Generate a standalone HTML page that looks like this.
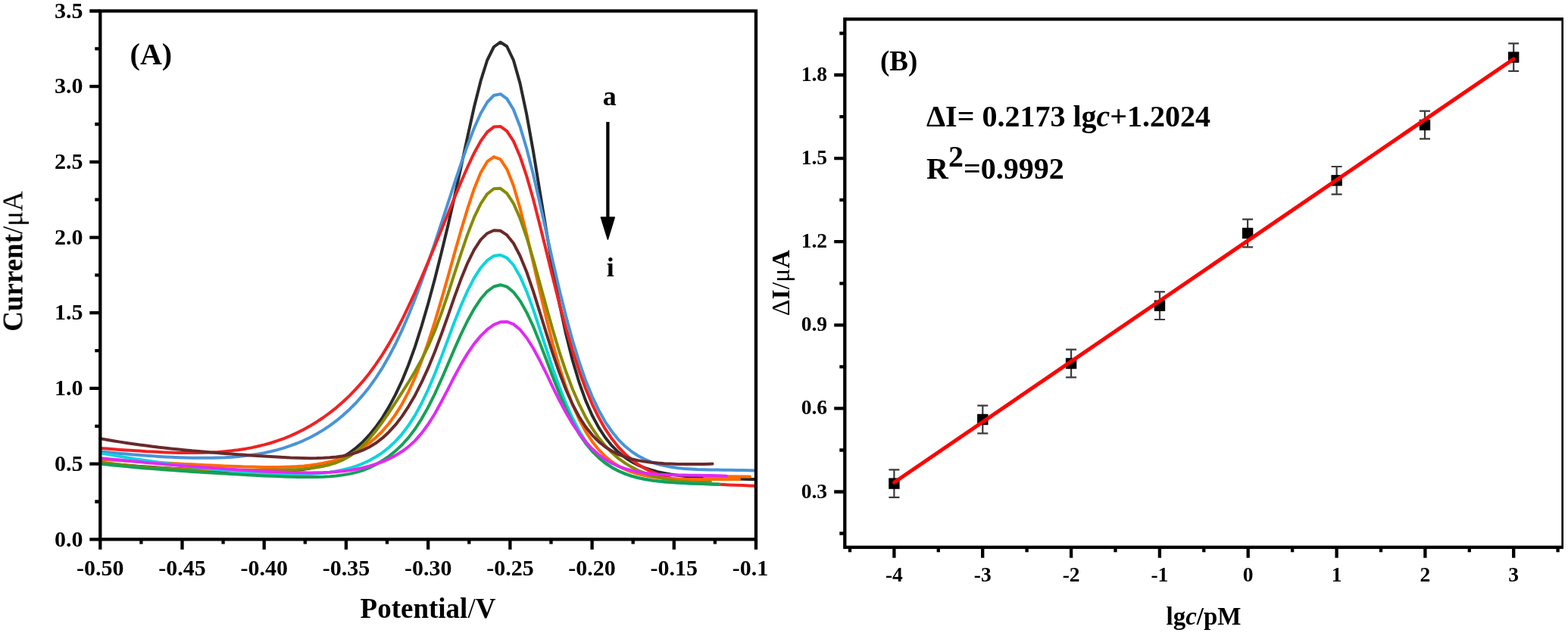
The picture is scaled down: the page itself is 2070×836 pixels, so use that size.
<!DOCTYPE html>
<html><head><meta charset="utf-8"><title>Figure</title>
<style>html,body{margin:0;padding:0;background:#fff;}svg{display:block;}</style>
</head><body>
<svg width="2070" height="836" viewBox="0 0 2070 836">
<defs><filter id="soft" x="0" y="0" width="100%" height="100%"><feGaussianBlur stdDeviation="0.45"/></filter></defs>
<rect width="2070" height="836" fill="#fff"/>
<g filter="url(#soft)">
<g fill="none" stroke-width="4" stroke-linejoin="round" stroke-linecap="round">
<path d="M132.0,611.4 L141.0,612.3 L149.6,613.1 L158.3,613.8 L166.9,614.5 L175.6,615.2 L184.3,615.9 L192.9,616.5 L201.6,617.1 L210.2,617.7 L218.9,618.2 L227.6,618.8 L236.2,619.3 L244.9,619.7 L253.5,620.2 L262.2,620.6 L270.9,621.0 L279.5,621.3 L288.2,621.7 L296.8,622.0 L305.5,622.2 L314.2,622.4 L322.8,622.6 L331.5,622.7 L340.1,622.8 L348.8,622.8 L357.5,622.7 L366.1,622.4 L374.8,622.1 L383.4,621.5 L392.1,620.8 L400.8,619.7 L409.4,618.4 L418.1,616.6 L426.7,614.4 L435.4,611.5 L444.1,607.9 L452.7,603.5 L461.4,598.1 L470.0,591.6 L478.7,583.9 L487.4,574.7 L496.0,564.1 L504.7,551.8 L513.3,537.6 L522.0,521.4 L530.7,502.9 L539.3,481.7 L548.0,457.6 L556.6,430.5 L565.3,400.7 L574.0,368.5 L582.6,334.3 L591.3,298.2 L599.9,260.2 L608.6,220.6 L617.3,180.4 L625.9,141.5 L634.6,106.9 L643.2,79.5 L651.9,62.0 L660.6,55.7 L669.2,61.3 L677.9,79.5 L686.5,109.9 L695.2,150.8 L703.9,199.3 L712.5,251.9 L721.2,304.6 L729.8,355.0 L738.5,400.9 L747.2,441.3 L755.8,475.8 L764.5,504.8 L773.1,528.9 L781.8,548.7 L790.5,564.9 L799.1,578.0 L807.8,588.7 L816.4,597.3 L825.1,604.3 L833.8,609.8 L842.4,614.3 L851.1,617.9 L859.7,620.7 L868.4,623.1 L877.1,624.9 L885.7,626.5 L894.4,627.7 L903.0,628.7 L911.7,629.6 L920.4,630.3 L929.0,630.8 L937.7,631.3 L946.3,631.7 L955.0,632.1 L963.7,632.4 L972.3,632.6 L981.0,632.8 L989.6,632.9 L998.0,633.0" stroke="#2b2b2b"/>
<path d="M132.0,596.4 L141.0,597.3 L149.6,598.1 L158.3,598.9 L166.9,599.6 L175.6,600.4 L184.3,601.1 L192.9,601.7 L201.6,602.3 L210.2,602.9 L218.9,603.4 L227.6,603.8 L236.2,604.2 L244.9,604.5 L253.5,604.7 L262.2,604.8 L270.9,604.8 L279.5,604.8 L288.2,604.5 L296.8,604.2 L305.5,603.7 L314.2,603.0 L322.8,602.1 L331.5,601.0 L340.1,599.7 L348.8,598.1 L357.5,596.2 L366.1,594.1 L374.8,591.6 L383.4,588.7 L392.1,585.5 L400.8,581.8 L409.4,577.7 L418.1,573.0 L426.7,567.9 L435.4,562.1 L444.1,555.7 L452.7,548.6 L461.4,540.7 L470.0,532.0 L478.7,522.2 L487.4,511.4 L496.0,499.4 L504.7,486.0 L513.3,471.0 L522.0,454.5 L530.7,436.2 L539.3,416.2 L548.0,394.5 L556.6,371.3 L565.3,346.8 L574.0,321.3 L582.6,295.1 L591.3,268.6 L599.9,242.2 L608.6,216.3 L617.3,191.7 L625.9,169.2 L634.6,149.8 L643.2,135.0 L651.9,126.0 L660.6,124.2 L669.2,130.4 L677.9,144.8 L686.5,167.0 L695.2,196.0 L703.9,230.1 L712.5,267.6 L721.2,306.6 L729.8,345.5 L738.5,382.9 L747.2,417.7 L755.8,449.4 L764.5,477.7 L773.1,502.4 L781.8,523.8 L790.5,541.9 L799.1,557.3 L807.8,570.0 L816.4,580.6 L825.1,589.3 L833.8,596.3 L842.4,602.0 L851.1,606.6 L859.7,610.1 L868.4,613.0 L877.1,615.1 L885.7,616.8 L894.4,618.0 L903.0,618.9 L911.7,619.5 L920.4,620.0 L929.0,620.3 L937.7,620.5 L946.3,620.6 L955.0,620.7 L963.7,620.8 L972.3,620.9 L981.0,621.1 L989.6,621.3 L998.0,621.6" stroke="#4a93d8"/>
<path d="M132.0,591.9 L141.0,592.6 L149.6,593.2 L158.3,593.9 L166.9,594.5 L175.6,595.1 L184.3,595.6 L192.9,596.2 L201.6,596.6 L210.2,597.0 L218.9,597.4 L227.6,597.7 L236.2,597.9 L244.9,598.0 L253.5,598.0 L262.2,597.9 L270.9,597.7 L279.5,597.4 L288.2,596.9 L296.8,596.2 L305.5,595.3 L314.2,594.2 L322.8,592.9 L331.5,591.4 L340.1,589.5 L348.8,587.4 L357.5,585.0 L366.1,582.2 L374.8,579.1 L383.4,575.6 L392.1,571.6 L400.8,567.3 L409.4,562.5 L418.1,557.2 L426.7,551.5 L435.4,545.1 L444.1,538.3 L452.7,530.8 L461.4,522.6 L470.0,513.7 L478.7,503.9 L487.4,493.2 L496.0,481.4 L504.7,468.5 L513.3,454.4 L522.0,439.1 L530.7,422.5 L539.3,404.7 L548.0,385.9 L556.6,366.2 L565.3,345.8 L574.0,324.9 L582.6,303.8 L591.3,282.5 L599.9,261.3 L608.6,240.5 L617.3,220.5 L625.9,202.2 L634.6,186.4 L643.2,174.4 L651.9,167.6 L660.6,166.9 L669.2,173.1 L677.9,186.4 L686.5,206.5 L695.2,232.4 L703.9,262.8 L712.5,296.4 L721.2,331.6 L729.8,366.9 L738.5,401.2 L747.2,433.4 L755.8,463.0 L764.5,489.7 L773.1,513.2 L781.8,533.8 L790.5,551.6 L799.1,566.7 L807.8,579.6 L816.4,590.5 L825.1,599.5 L833.8,607.1 L842.4,613.4 L851.1,618.6 L859.7,622.8 L868.4,626.4 L877.1,629.2 L885.7,631.6 L894.4,633.5 L903.0,635.1 L911.7,636.3 L920.4,637.4 L929.0,638.2 L937.7,638.9 L946.3,639.5 L955.0,640.0 L963.7,640.4 L972.3,640.8 L981.0,641.1 L989.6,641.4 L998.0,641.8" stroke="#f02222"/>
<path d="M132.0,606.7 L141.0,607.2 L149.6,607.7 L158.3,608.2 L166.9,608.7 L175.6,609.1 L184.3,609.6 L192.9,610.1 L201.6,610.6 L210.2,611.0 L218.9,611.5 L227.6,612.0 L236.2,612.4 L244.9,612.9 L253.5,613.3 L262.2,613.8 L270.9,614.2 L279.5,614.6 L288.2,615.0 L296.8,615.4 L305.5,615.7 L314.2,616.1 L322.8,616.4 L331.5,616.6 L340.1,616.8 L348.8,616.9 L357.5,617.0 L366.1,617.0 L374.8,616.8 L383.4,616.5 L392.1,616.1 L400.8,615.4 L409.4,614.5 L418.1,613.3 L426.7,611.7 L435.4,609.8 L444.1,607.3 L452.7,604.4 L461.4,600.8 L470.0,596.5 L478.7,591.3 L487.4,585.2 L496.0,578.0 L504.7,569.5 L513.3,559.5 L522.0,547.6 L530.7,533.7 L539.3,517.4 L548.0,498.4 L556.6,476.6 L565.3,452.1 L574.0,425.1 L582.6,396.1 L591.3,365.8 L599.9,334.9 L608.6,304.4 L617.3,275.4 L625.9,249.4 L634.6,228.1 L643.2,213.4 L651.9,207.1 L660.6,210.3 L669.2,223.3 L677.9,245.3 L686.5,274.7 L695.2,309.2 L703.9,346.4 L712.5,384.1 L721.2,420.5 L729.8,454.3 L738.5,484.7 L747.2,511.4 L755.8,534.3 L764.5,553.7 L773.1,569.9 L781.8,583.2 L790.5,594.1 L799.1,602.9 L807.8,609.9 L816.4,615.5 L825.1,619.9 L833.8,623.4 L842.4,626.1 L851.1,628.1 L859.7,629.7 L868.4,630.8 L877.1,631.7 L885.7,632.2 L894.4,632.6 L903.0,632.9 L911.7,633.0 L920.4,633.0 L929.0,633.0 L937.7,633.0 L946.3,633.0 L955.0,633.0 L963.7,633.0 L972.3,633.0 L976.0,633.0" stroke="#ff6a00"/>
<path d="M930,629.2 L960,629.3 L990,629.4" stroke="#ff6a00"/>
<path d="M132.0,610.1 L141.0,611.4 L149.6,612.6 L158.3,613.7 L166.9,614.6 L175.6,615.5 L184.3,616.3 L192.9,616.9 L201.6,617.5 L210.2,618.1 L218.9,618.5 L227.6,618.9 L236.2,619.3 L244.9,619.6 L253.5,619.8 L262.2,620.0 L270.9,620.2 L279.5,620.4 L288.2,620.5 L296.8,620.6 L305.5,620.7 L314.2,620.8 L322.8,620.8 L331.5,620.9 L340.1,620.9 L348.8,620.9 L357.5,620.8 L366.1,620.7 L374.8,620.6 L383.4,620.3 L392.1,619.9 L400.8,619.3 L409.4,618.5 L418.1,617.3 L426.7,615.8 L435.4,613.7 L444.1,611.0 L452.7,607.3 L461.4,602.6 L470.0,596.5 L478.7,588.9 L487.4,579.8 L496.0,569.3 L504.7,557.6 L513.3,545.0 L522.0,531.9 L530.7,518.4 L539.3,504.7 L548.0,490.3 L556.6,474.8 L565.3,457.2 L574.0,437.0 L582.6,414.0 L591.3,388.6 L599.9,361.7 L608.6,334.8 L617.3,309.4 L625.9,287.1 L634.6,269.1 L643.2,256.2 L651.9,249.2 L660.6,248.8 L669.2,255.3 L677.9,268.6 L686.5,288.3 L695.2,313.3 L703.9,342.3 L712.5,373.5 L721.2,405.3 L729.8,436.1 L738.5,464.8 L747.2,490.8 L755.8,513.8 L764.5,533.7 L773.1,550.9 L781.8,565.7 L790.5,578.3 L799.1,588.9 L807.8,597.8 L816.4,605.4 L825.1,611.6 L833.8,616.9 L842.4,621.3 L851.1,624.9 L859.7,627.9 L868.4,630.4 L877.1,632.4 L885.7,633.9 L894.4,635.2 L903.0,636.1 L911.7,636.7 L920.4,637.0 L929.0,637.1 L938.0,636.8" stroke="#868a00"/>
<path d="M132.0,579.1 L141.0,580.7 L149.6,582.2 L158.3,583.6 L166.9,585.0 L175.6,586.3 L184.3,587.5 L192.9,588.6 L201.6,589.7 L210.2,590.8 L218.9,591.7 L227.6,592.7 L236.2,593.6 L244.9,594.4 L253.5,595.3 L262.2,596.0 L270.9,596.8 L279.5,597.5 L288.2,598.2 L296.8,598.9 L305.5,599.5 L314.2,600.2 L322.8,600.8 L331.5,601.4 L340.1,602.0 L348.8,602.5 L357.5,603.1 L366.1,603.6 L374.8,604.0 L383.4,604.5 L392.1,604.8 L400.8,605.0 L409.4,605.2 L418.1,605.1 L426.7,604.8 L435.4,604.3 L444.1,603.5 L452.7,602.2 L461.4,600.4 L470.0,597.9 L478.7,594.7 L487.4,590.5 L496.0,585.3 L504.7,578.7 L513.3,570.7 L522.0,561.2 L530.7,549.9 L539.3,536.8 L548.0,521.9 L556.6,504.9 L565.3,485.9 L574.0,464.8 L582.6,441.7 L591.3,417.3 L599.9,392.4 L608.6,368.6 L617.3,347.3 L625.9,329.8 L634.6,316.7 L643.2,308.2 L651.9,304.2 L660.6,304.8 L669.2,310.4 L677.9,321.3 L686.5,337.7 L695.2,359.0 L703.9,384.3 L712.5,411.8 L721.2,440.0 L729.8,467.2 L738.5,492.3 L747.2,514.7 L755.8,534.0 L764.5,550.2 L773.1,563.7 L781.8,574.6 L790.5,583.4 L799.1,590.3 L807.8,595.8 L816.4,600.1 L825.1,603.5 L833.8,606.1 L842.4,608.1 L851.1,609.6 L859.7,610.7 L868.4,611.6 L877.1,612.2 L885.7,612.6 L894.4,612.9 L903.0,613.0 L911.7,613.1 L920.4,613.0 L929.0,612.9 L937.7,612.7 L940.5,612.6" stroke="#6b2a2a"/>
<path d="M132.0,598.4 L141.0,599.9 L149.6,601.4 L158.3,602.9 L166.9,604.3 L175.6,605.7 L184.3,607.0 L192.9,608.3 L201.6,609.6 L210.2,610.8 L218.9,612.0 L227.6,613.2 L236.2,614.3 L244.9,615.4 L253.5,616.4 L262.2,617.5 L270.9,618.5 L279.5,619.4 L288.2,620.3 L296.8,621.2 L305.5,622.0 L314.2,622.8 L322.8,623.5 L331.5,624.2 L340.1,624.8 L348.8,625.3 L357.5,625.8 L366.1,626.1 L374.8,626.4 L383.4,626.6 L392.1,626.6 L400.8,626.4 L409.4,626.1 L418.1,625.6 L426.7,624.8 L435.4,623.7 L444.1,622.3 L452.7,620.5 L461.4,618.3 L470.0,615.6 L478.7,612.3 L487.4,608.3 L496.0,603.5 L504.7,597.8 L513.3,591.0 L522.0,582.9 L530.7,573.3 L539.3,561.9 L548.0,548.4 L556.6,532.5 L565.3,514.3 L574.0,493.8 L582.6,471.6 L591.3,448.4 L599.9,425.3 L608.6,403.5 L617.3,383.9 L625.9,367.1 L634.6,353.7 L643.2,343.9 L651.9,338.0 L660.6,336.7 L669.2,340.6 L677.9,350.0 L686.5,364.9 L695.2,384.8 L703.9,408.4 L712.5,434.3 L721.2,460.9 L729.8,486.9 L738.5,511.2 L747.2,533.1 L755.8,552.3 L764.5,568.8 L773.1,582.7 L781.8,594.2 L790.5,603.5 L799.1,611.1 L807.8,617.2 L816.4,622.0 L825.1,625.8 L833.8,628.8 L842.4,631.2 L851.1,633.0 L859.7,634.4 L868.4,635.5 L877.1,636.4 L885.7,637.1 L894.4,637.6 L903.0,638.0 L911.7,638.4 L920.4,638.7 L929.0,638.9 L937.7,639.2 L946.3,639.4 L949.0,639.5" stroke="#10d4dc"/>
<path d="M132.0,612.6 L141.0,613.5 L149.6,614.4 L158.3,615.3 L166.9,616.1 L175.6,616.9 L184.3,617.7 L192.9,618.4 L201.6,619.1 L210.2,619.8 L218.9,620.5 L227.6,621.1 L236.2,621.7 L244.9,622.3 L253.5,622.9 L262.2,623.5 L270.9,624.1 L279.5,624.6 L288.2,625.1 L296.8,625.6 L305.5,626.1 L314.2,626.6 L322.8,627.1 L331.5,627.5 L340.1,628.0 L348.8,628.4 L357.5,628.8 L366.1,629.1 L374.8,629.4 L383.4,629.7 L392.1,629.9 L400.8,630.1 L409.4,630.1 L418.1,630.0 L426.7,629.7 L435.4,629.2 L444.1,628.4 L452.7,627.3 L461.4,625.9 L470.0,623.9 L478.7,621.3 L487.4,617.9 L496.0,613.6 L504.7,608.5 L513.3,602.6 L522.0,595.6 L530.7,587.5 L539.3,577.9 L548.0,566.5 L556.6,553.1 L565.3,537.7 L574.0,520.3 L582.6,501.2 L591.3,481.1 L599.9,460.9 L608.6,441.4 L617.3,423.5 L625.9,407.9 L634.6,394.8 L643.2,384.8 L651.9,378.5 L660.6,376.3 L669.2,378.6 L677.9,385.7 L686.5,397.1 L695.2,412.4 L703.9,431.0 L712.5,452.3 L721.2,475.1 L729.8,498.1 L738.5,520.1 L747.2,540.1 L755.8,557.7 L764.5,572.8 L773.1,585.5 L781.8,596.1 L790.5,604.7 L799.1,611.8 L807.8,617.4 L816.4,622.0 L825.1,625.7 L833.8,628.6 L842.4,630.9 L851.1,632.7 L859.7,634.2 L868.4,635.3 L877.1,636.2 L885.7,636.9 L894.4,637.5 L903.0,638.0 L911.7,638.4 L920.4,638.7 L929.0,639.1 L937.7,639.4 L946.3,639.7 L949.0,639.8" stroke="#17a055"/>
<path d="M132.0,605.0 L141.0,605.9 L149.6,606.8 L158.3,607.6 L166.9,608.5 L175.6,609.3 L184.3,610.1 L192.9,610.9 L201.6,611.7 L210.2,612.5 L218.9,613.2 L227.6,613.9 L236.2,614.7 L244.9,615.4 L253.5,616.1 L262.2,616.7 L270.9,617.4 L279.5,618.0 L288.2,618.6 L296.8,619.2 L305.5,619.8 L314.2,620.4 L322.8,620.9 L331.5,621.5 L340.1,622.0 L348.8,622.4 L357.5,622.9 L366.1,623.3 L374.8,623.6 L383.4,623.9 L392.1,624.2 L400.8,624.3 L409.4,624.4 L418.1,624.3 L426.7,624.1 L435.4,623.7 L444.1,623.1 L452.7,622.3 L461.4,621.2 L470.0,619.7 L478.7,617.9 L487.4,615.7 L496.0,613.0 L504.7,609.8 L513.3,606.1 L522.0,601.6 L530.7,596.3 L539.3,589.9 L548.0,581.9 L556.6,572.1 L565.3,560.3 L574.0,546.5 L582.6,530.8 L591.3,514.1 L599.9,497.2 L608.6,481.1 L617.3,466.6 L625.9,454.1 L634.6,443.6 L643.2,435.2 L651.9,428.9 L660.6,425.3 L669.2,424.9 L677.9,428.1 L686.5,435.2 L695.2,446.0 L703.9,459.7 L712.5,475.8 L721.2,493.2 L729.8,511.3 L738.5,528.8 L747.2,545.1 L755.8,559.7 L764.5,572.5 L773.1,583.5 L781.8,592.8 L790.5,600.5 L799.1,606.8 L807.8,611.8 L816.4,615.8 L825.1,619.0 L833.8,621.4 L842.4,623.3 L851.1,624.7 L859.7,625.7 L868.4,626.4 L877.1,626.9 L885.7,627.3 L894.4,627.5 L903.0,627.6 L911.7,627.7 L920.4,627.8 L929.0,627.9 L937.7,628.1 L946.3,628.3 L955.0,628.6 L959.0,628.7" stroke="#e02cf4"/>
</g>
<g stroke="#000" stroke-width="4.3" fill="none" stroke-linecap="butt">
<rect x="132.3" y="14.5" width="865.7" height="697.8"/>
<path d="M132.3,712.3 V725.7 M240.5,712.3 V725.7 M348.7,712.3 V725.7 M456.9,712.3 V725.7 M565.2,712.3 V725.7 M673.4,712.3 V725.7 M781.6,712.3 V725.7 M889.8,712.3 V725.7 M998.0,712.3 V725.7 M186.4,712.3 V718.5 M294.6,712.3 V718.5 M402.8,712.3 V718.5 M511.0,712.3 V718.5 M619.3,712.3 V718.5 M727.5,712.3 V718.5 M835.7,712.3 V718.5 M943.9,712.3 V718.5 M118.3,712.3 H132.3 M118.3,612.6 H132.3 M118.3,512.9 H132.3 M118.3,413.2 H132.3 M118.3,313.6 H132.3 M118.3,213.9 H132.3 M118.3,114.2 H132.3 M118.3,14.5 H132.3 M125.3,662.5 H132.3 M125.3,562.8 H132.3 M125.3,463.1 H132.3 M125.3,363.4 H132.3 M125.3,263.7 H132.3 M125.3,164.0 H132.3 M125.3,64.3 H132.3"/>
</g>
<g font-family="'Liberation Serif', 'Times New Roman', serif" font-weight="bold" fill="#000">
<text x="132.3" y="759.5" font-size="30" text-anchor="middle">-0.50</text>
<text x="240.5" y="759.5" font-size="30" text-anchor="middle">-0.45</text>
<text x="348.7" y="759.5" font-size="30" text-anchor="middle">-0.40</text>
<text x="456.9" y="759.5" font-size="30" text-anchor="middle">-0.35</text>
<text x="565.2" y="759.5" font-size="30" text-anchor="middle">-0.30</text>
<text x="673.4" y="759.5" font-size="30" text-anchor="middle">-0.25</text>
<text x="781.6" y="759.5" font-size="30" text-anchor="middle">-0.20</text>
<text x="889.8" y="759.5" font-size="30" text-anchor="middle">-0.15</text>
<text x="966.8" y="759.5" font-size="30">-0.1</text>
<text x="109.4" y="721.5" font-size="30" text-anchor="end">0.0</text>
<text x="109.4" y="621.8" font-size="30" text-anchor="end">0.5</text>
<text x="109.4" y="522.1" font-size="30" text-anchor="end">1.0</text>
<text x="109.4" y="422.4" font-size="30" text-anchor="end">1.5</text>
<text x="109.4" y="322.8" font-size="30" text-anchor="end">2.0</text>
<text x="109.4" y="223.1" font-size="30" text-anchor="end">2.5</text>
<text x="109.4" y="123.4" font-size="30" text-anchor="end">3.0</text>
<text x="109.4" y="23.7" font-size="30" text-anchor="end">3.5</text>
<text x="565" y="816" font-size="37" text-anchor="middle">Potential<tspan font-weight="normal">/</tspan>V</text>
<text transform="translate(29.5,345) rotate(-90)" font-size="37" text-anchor="middle">Current<tspan font-weight="normal">/μA</tspan></text>
<text x="171.6" y="84.7" font-size="40">(A)</text>
<text x="795.8" y="139" font-size="36">a</text>
<text x="800.7" y="364.5" font-size="36">i</text>
</g>
<line x1="802.4" y1="161" x2="802.4" y2="292" stroke="#000" stroke-width="4.3"/>
<path d="M793.4,287 L811.3,287 L802.4,316 Z" fill="#000" stroke="#000" stroke-width="1.5" stroke-linejoin="round"/>
<g stroke="#000" stroke-width="4.3" fill="none">
<rect x="1115.3" y="25.3" width="948.2" height="697.5"/>
<path d="M1180.4,722.8 V736.7 M1297.2,722.8 V736.7 M1414.1,722.8 V736.7 M1530.9,722.8 V736.7 M1647.7,722.8 V736.7 M1764.6,722.8 V736.7 M1881.4,722.8 V736.7 M1998.2,722.8 V736.7 M1122.0,722.8 V729.2 M1238.8,722.8 V729.2 M1355.6,722.8 V729.2 M1472.5,722.8 V729.2 M1589.3,722.8 V729.2 M1706.1,722.8 V729.2 M1823.0,722.8 V729.2 M1939.8,722.8 V729.2 M2056.6,722.8 V729.2 M1101.2,649.5 H1115.3 M1101.2,539.4 H1115.3 M1101.2,429.3 H1115.3 M1101.2,319.2 H1115.3 M1101.2,209.1 H1115.3 M1101.2,99.0 H1115.3 M1108.3,704.5 H1115.3 M1108.3,594.5 H1115.3 M1108.3,484.4 H1115.3 M1108.3,374.3 H1115.3 M1108.3,264.2 H1115.3 M1108.3,154.1 H1115.3 M1108.3,44.0 H1115.3"/>
</g>
<g font-family="'Liberation Serif', 'Times New Roman', serif" font-weight="bold" fill="#000">
<text x="1180.4" y="768" font-size="27.5" text-anchor="middle">-4</text>
<text x="1297.2" y="768" font-size="27.5" text-anchor="middle">-3</text>
<text x="1414.1" y="768" font-size="27.5" text-anchor="middle">-2</text>
<text x="1530.9" y="768" font-size="27.5" text-anchor="middle">-1</text>
<text x="1647.7" y="768" font-size="27.5" text-anchor="middle">0</text>
<text x="1764.6" y="768" font-size="27.5" text-anchor="middle">1</text>
<text x="1881.4" y="768" font-size="27.5" text-anchor="middle">2</text>
<text x="1998.2" y="768" font-size="27.5" text-anchor="middle">3</text>
<text x="1092" y="657.5" font-size="27.5" text-anchor="end">0.3</text>
<text x="1092" y="547.4" font-size="27.5" text-anchor="end">0.6</text>
<text x="1092" y="437.3" font-size="27.5" text-anchor="end">0.9</text>
<text x="1092" y="327.2" font-size="27.5" text-anchor="end">1.2</text>
<text x="1092" y="217.1" font-size="27.5" text-anchor="end">1.5</text>
<text x="1092" y="107.0" font-size="27.5" text-anchor="end">1.8</text>
<text x="1589" y="824.5" font-size="33" text-anchor="middle">lg<tspan font-style="italic">c</tspan>/pM</text>
<text transform="translate(1041.5,373.6) rotate(-90)" font-size="34" text-anchor="middle"><tspan font-weight="normal">Δ</tspan>I<tspan font-weight="normal">/μ</tspan>A</text>
<text x="1162" y="93" font-size="37">(B)</text>
<text x="1223" y="166.5" font-size="40">ΔI= 0.2173 lg<tspan font-style="italic">c</tspan>+1.2024</text>
<text x="1223" y="235.5" font-size="40">R<tspan dy="-15.3">2</tspan><tspan dy="15.3">=0.9992</tspan></text>
</g>
<path d="M1180.4,620.3 V656.9 M1173.4,620.3 H1187.4 M1173.4,656.9 H1187.4 M1297.3,535.7 V572.3 M1290.3,535.7 H1304.3 M1290.3,572.3 H1304.3 M1414.1,461.7 V498.3 M1407.1,461.7 H1421.1 M1407.1,498.3 H1421.1 M1531.0,385.4 V422.0 M1524.0,385.4 H1538.0 M1524.0,422.0 H1538.0 M1647.1,289.7 V326.3 M1640.1,289.7 H1654.1 M1640.1,326.3 H1654.1 M1764.6,220.0 V256.6 M1757.6,220.0 H1771.6 M1757.6,256.6 H1771.6 M1881.0,146.7 V183.3 M1874.0,146.7 H1888.0 M1874.0,183.3 H1888.0 M1998.2,57.3 V93.9 M1991.2,57.3 H2005.2 M1991.2,93.9 H2005.2" stroke="#3a3a3a" stroke-width="2.2" fill="none"/>
<rect x="1173.2" y="631.4" width="14.4" height="14.4" fill="#000"/>
<rect x="1290.1" y="546.8" width="14.4" height="14.4" fill="#000"/>
<rect x="1406.9" y="472.8" width="14.4" height="14.4" fill="#000"/>
<rect x="1523.8" y="396.5" width="14.4" height="14.4" fill="#000"/>
<rect x="1639.9" y="300.8" width="14.4" height="14.4" fill="#000"/>
<rect x="1757.4" y="231.1" width="14.4" height="14.4" fill="#000"/>
<rect x="1873.8" y="157.8" width="14.4" height="14.4" fill="#000"/>
<rect x="1991.0" y="68.4" width="14.4" height="14.4" fill="#000"/>
<line x1="1180.6" y1="637" x2="1998" y2="78" stroke="#ff0000" stroke-width="5" stroke-linecap="round"/>
</g>
</svg>
</body></html>
